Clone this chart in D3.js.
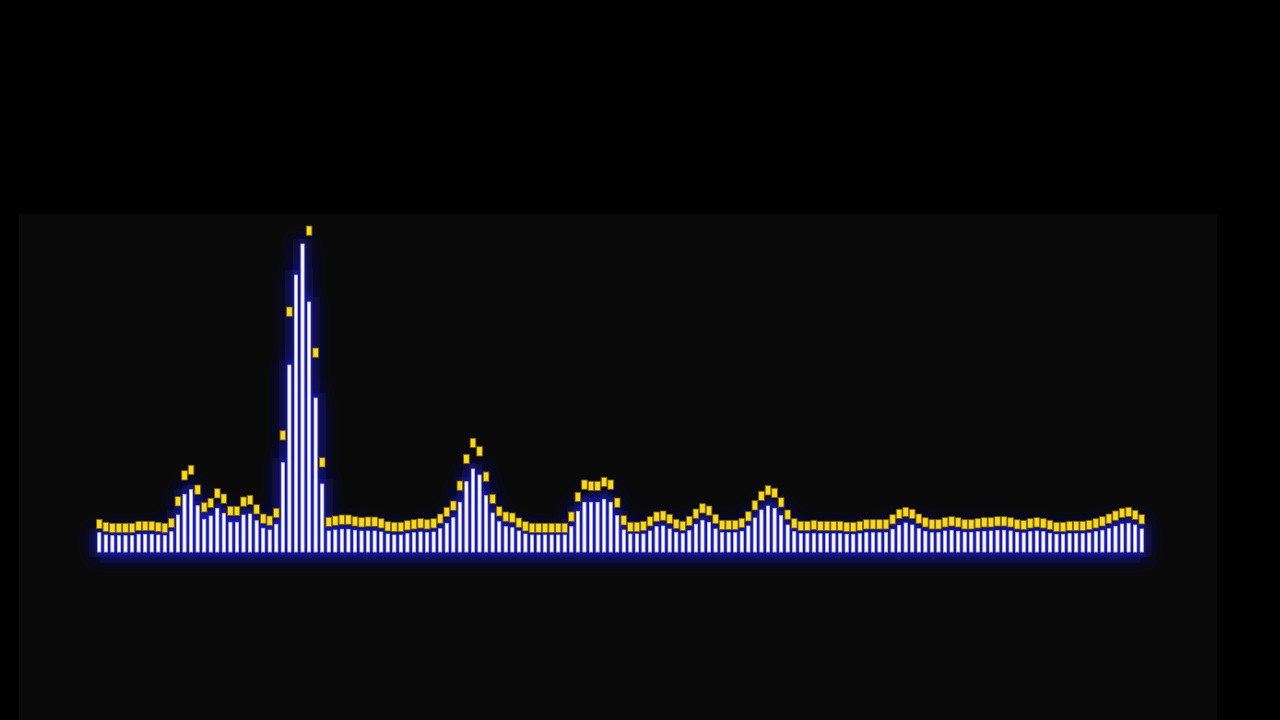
<!DOCTYPE html>
<html>
<head>
<meta charset="utf-8">
<script src="https://cdn.jsdelivr.net/npm/d3@7"></script>
<style>
  body { margin: 0; background: #000; overflow: hidden; }
</style>
</head>
<body>
<div id="spectrum"></div>
<script>
// bar levels (white bars), one per frequency bin
var levels = [
  19.3, 17, 16.3, 16.3, 16.3, 16.3, 17.7, 17.7, 17.7, 17,
  16.3, 20.3, 37, 57.7, 62.3, 46.3, 32.7, 36, 43.7, 38.7,
  29.7, 29.7, 37, 38, 31.3, 23.7, 22, 27.7, 89.3, 187,
  277, 308, 250, 154, 68, 21, 22, 22.7, 22.7, 21.7,
  21, 21, 21, 20, 18, 17, 17, 18.3, 19.3, 20,
  19.3, 20, 23.3, 28.7, 34.3, 49.7, 70.3, 83, 77, 56.3,
  39, 30.3, 25.3, 24.3, 21, 18, 17, 17, 17, 17,
  17, 17, 25.3, 40.7, 49.7, 49.7, 49.7, 52.7, 49.7, 36.3,
  22, 18, 18, 18, 21, 25.3, 26, 23, 19.7, 18.3,
  21.3, 27.7, 31.7, 29.7, 23, 19.3, 19.3, 19.3, 20.7, 26,
  34, 42, 46, 43.7, 36.3, 27, 20.3, 18.3, 18.3, 18.3,
  18.3, 18.3, 18.3, 18.3, 17.7, 17.7, 18.3, 19.3, 19.3, 19.3,
  19.3, 22.7, 26.7, 29, 27, 23.3, 20.7, 19.3, 19.3, 21,
  21.7, 20.7, 19.7, 19.7, 20.3, 20.7, 21, 21.7, 21.7, 21,
  19.7, 19, 20.3, 21, 20.3, 18.7, 17.7, 17.7, 18.3, 18.3,
  18.3, 19, 20.3, 21.7, 23.3, 25.7, 28, 28.7, 27, 23
];

// falling peak markers (yellow caps)
var peaks = [
  32.7, 29.7, 28.7, 28.7, 28.7, 28.7, 30.7, 30.7, 30.7, 29.7,
  28.7, 33.7, 55.3, 81.3, 86.7, 67, 49.3, 53.7, 63.3, 58,
  45.7, 45.7, 55, 56.7, 47.3, 38, 36, 43.7, 121.3, 245,
  352, 368, 326, 204, 94.3, 34.7, 36, 37, 37, 35.3,
  34.3, 35, 35, 33.3, 30.3, 29.7, 29.7, 31.3, 32.3, 33.3,
  32.3, 33.3, 38, 44.7, 51, 71, 97.7, 113.7, 105.3, 80,
  57.7, 45.3, 40, 39, 34, 30.3, 28.7, 28.7, 28.7, 28.7,
  28.7, 28.7, 40, 59.7, 72, 70.7, 70.7, 74.7, 72, 54,
  36.3, 29.7, 29.7, 30.7, 35.3, 40, 41, 37.7, 32.7, 30.7,
  35.7, 43, 48.3, 46, 37.7, 31.7, 31.7, 31.7, 33.7, 40.3,
  51.3, 60.7, 66.3, 63.7, 54.3, 42, 33.3, 30.7, 30.7, 31.7,
  30.7, 30.7, 30.7, 30.7, 29.7, 29.7, 30.7, 32.3, 32.3, 32.3,
  32.3, 37.3, 42.7, 44.7, 42.7, 38, 34.3, 32.3, 32.3, 34.3,
  35.3, 34.3, 32.3, 32.3, 33.3, 34.3, 34.3, 35.3, 35.3, 34.3,
  32.3, 31.7, 33.3, 34.3, 33.3, 31.7, 29.7, 29.7, 30.7, 30.7,
  30.7, 31.7, 33.3, 35.3, 38, 41, 43.7, 44.7, 41.7, 37.3
];

var bins = d3.range(levels.length);

var width = 1280,
  height = 720;
var panel = { x: 19, y: 214, w: 1198, h: 506 };

var x = d3.scaleBand().domain(bins).range([96, 1145]).padding(0);
var y = d3.scaleLinear().domain([0, 340]).range([552, 212]);

var barW = 3.2,
  capW = 5.6,
  capH = 9.3;

var svg = d3
  .select("#spectrum")
  .append("svg")
  .attr("width", width)
  .attr("height", height);

var defs = svg.append("defs");

defs
  .append("clipPath")
  .attr("id", "panel-clip")
  .append("rect")
  .attr("x", panel.x)
  .attr("y", panel.y)
  .attr("width", panel.w)
  .attr("height", panel.h);

// two blur strengths: a wide soft halo and a tighter one
[["glow-wide", 9], ["glow-tight", 2.5]].forEach(function (f) {
  defs
    .append("filter")
    .attr("id", f[0])
    .attr("x", "-150%")
    .attr("y", "-50%")
    .attr("width", "400%")
    .attr("height", "200%")
    .append("feGaussianBlur")
    .attr("stdDeviation", f[1]);
});

svg
  .append("rect")
  .attr("x", panel.x)
  .attr("y", panel.y)
  .attr("width", panel.w)
  .attr("height", panel.h)
  .style("fill", "#0a0a0a");

var g = svg.append("g").attr("clip-path", "url(#panel-clip)");

function cx(i) {
  return x(i) + x.bandwidth() / 2;
}

function halo(id, w, color, op) {
  g.append("g")
    .attr("filter", "url(#" + id + ")")
    .selectAll("rect")
    .data(bins)
    .enter()
    .append("rect")
    .attr("x", function (i) { return cx(i) - w / 2; })
    .attr("y", function (i) { return y(levels[i]) - 5; })
    .attr("width", w)
    .attr("height", function (i) { return y(0) - y(levels[i]) + 10; })
    .style("fill", color)
    .style("opacity", op);
}

halo("glow-wide", 10, "#1212a4", 1);
halo("glow-tight", 5, "#1e1ec8", 0.45);

// bars
g.append("g")
  .selectAll("rect")
  .data(bins)
  .enter()
  .append("rect")
  .attr("x", function (i) { return cx(i) - barW / 2; })
  .attr("y", function (i) { return y(levels[i]); })
  .attr("width", barW)
  .attr("height", function (i) { return y(0) - y(levels[i]); })
  .style("fill", "#ffffff")
  .style("stroke", "#b0b0ff")
  .style("stroke-width", 0.8);

// peak caps
g.append("g")
  .selectAll("rect")
  .data(bins)
  .enter()
  .append("rect")
  .attr("x", function (i) { return cx(i) - capW / 2; })
  .attr("y", function (i) { return y(peaks[i]); })
  .attr("width", capW)
  .attr("height", capH)
  .style("fill", "#f8da18")
  .style("stroke", "#7a6000")
  .style("stroke-width", 0.8);
</script>
</body>
</html>
